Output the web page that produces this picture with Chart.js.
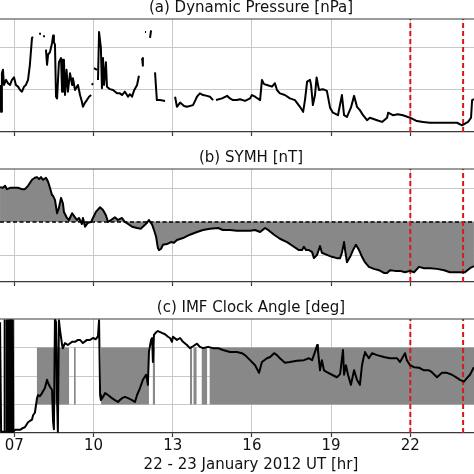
<!DOCTYPE html>
<html><head><meta charset="utf-8">
<script src="https://cdn.jsdelivr.net/npm/chart.js@4.4.1/dist/chart.umd.min.js"></script>
<style>
html,body{margin:0;padding:0;background:#fff;overflow:hidden;width:474px;height:474px;}
canvas{position:absolute;left:0;}
</style></head><body>
<canvas id="ca" width="502" height="152" style="top:0px"></canvas>
<canvas id="cb" width="502" height="162" style="top:140px"></canvas>
<canvas id="cc" width="502" height="184" style="top:290px"></canvas>
<script>
// ---------------- data ----------------
const xTicks = [7, 10, 13, 16, 19, 22];
const xTitle = '22 - 23 January 2012 UT [hr]';
const titles = ['(a) Dynamic Pressure [nPa]', '(b) SYMH [nT]', '(c) IMF Clock Angle [deg]'];
const eventTimes = [22, 24];

const pressTime = [6.46,6.50,6.53,6.57,6.61,6.69,6.76,6.84,6.91,6.99,7.06,7.14,7.22,7.29,7.37,7.44,7.52,7.59,7.67,7.71,7.80,
 7.94,8.01,8.05,8.09,8.16,8.18,
 8.20,8.24,8.28,8.35,8.43,8.47,8.50,8.54,8.58,8.62,8.69,8.77,8.81,8.84,8.88,8.92,8.98,9.03,9.11,9.19,9.22,9.30,9.41,9.49,9.56,9.60,9.68,9.75,9.83,9.91,9.92,
 9.94,9.98,10.00,
 10.02,10.13,10.15,
 10.17,10.21,10.28,10.32,10.36,10.40,10.47,10.51,10.62,10.74,10.89,11.00,11.08,11.19,11.31,11.38,11.46,11.53,11.65,11.72,11.78,
 11.84,11.87,11.92,
 11.95,11.99,12.05,
 12.14,12.18,12.25,
 12.33,12.40,12.52,12.71,12.85,
 13.09,13.16,13.28,13.43,13.54,13.77,13.92,14.03,14.15,14.30,14.41,14.53,14.58,
 14.64,14.87,15.06,15.17,15.28,15.43,15.55,15.74,15.93,16.00,16.12,16.31,16.38,16.46,16.57,16.76,16.87,16.95,17.06,17.25,
 17.44,17.63,17.82,17.94,18.01,18.09,18.20,18.24,18.31,18.39,18.45,18.54,18.69,18.84,18.96,19.07,19.26,19.41,19.49,19.60,
 19.75,19.87,19.98,20.09,20.21,20.36,20.47,20.74,20.93,21.12,21.16,21.34,21.53,21.72,21.99,22.25,22.48,22.75,23.01,23.24,
 23.50,23.77,23.96,24.07,24.19,24.30,24.34,24.41];
const pressVal = [5.6,2.4,7.0,7.4,5.6,6.2,5.8,5.6,6.2,6.5,5.6,5.4,5.0,4.8,5.4,5.6,6.2,8.0,11.2,11.3,null,
 11.7,11.7,null,11.4,11.4,null,
 9.8,8.0,9.2,9.5,10.6,11.5,10.7,10.4,4.2,4.0,8.3,8.8,4.8,8.6,8.6,4.4,7.4,4.8,7.0,5.6,6.4,5.0,5.6,4.4,3.6,3.0,3.5,3.8,4.2,4.4,null,
 5.6,5.8,null,
 7.6,7.4,null,
 6.2,11.9,10.0,5.2,8.8,5.6,8.3,5.4,5.1,5.0,4.6,4.6,4.4,4.8,4.2,4.5,4.2,4.9,5.6,6.7,null,
 8.8,7.9,null,
 11.9,11.9,null,
 11.2,12.1,null,
 7.1,3.8,3.8,3.7,null,
 4.2,3.0,3.5,3.1,3.0,3.2,4.2,4.6,4.4,4.3,4.2,3.8,null,
 3.8,4.0,4.3,4.0,3.8,3.8,3.9,3.7,4.0,4.4,4.2,3.8,6.2,5.7,5.6,5.4,5.8,5.0,4.6,4.4,
 4.0,3.8,3.0,2.4,3.8,6.0,6.2,5.6,3.2,4.4,6.5,5.0,5.1,4.9,2.9,2.3,2.0,4.4,2.0,1.8,
 2.9,4.3,3.0,2.6,2.0,1.4,1.7,1.4,1.2,1.7,2.3,2.0,2.1,2.0,1.7,1.3,1.2,1.1,1.1,1.1,
 1.1,1.1,0.8,1.0,1.2,1.7,3.8,3.9];

const symhTime = [6.46,6.57,6.65,6.72,6.84,6.95,7.14,7.29,7.40,7.52,7.67,7.78,7.86,7.94,8.01,8.09,8.20,8.28,8.35,8.43,
 8.47,8.54,8.62,8.69,8.77,8.84,8.88,8.98,9.07,9.19,9.30,9.37,9.45,9.56,9.60,9.68,9.79,9.91,9.98,10.09,
 10.25,10.36,10.47,10.55,10.70,10.81,10.93,11.08,11.19,11.31,11.46,11.65,11.80,11.87,12.03,12.10,12.22,12.29,12.37,12.44,
 12.48,12.56,12.63,12.78,12.94,13.05,13.16,13.39,13.65,13.92,14.15,14.41,14.72,14.90,15.17,15.43,15.93,16.12,16.31,16.50,
 16.65,16.84,17.06,17.33,17.59,17.78,17.90,17.97,18.05,18.16,18.28,18.35,18.47,18.58,18.65,18.84,19.03,19.22,19.34,19.41,
 19.49,19.53,19.60,19.72,19.83,19.94,20.06,20.17,20.28,20.43,20.62,20.81,21.00,21.12,21.23,21.42,21.61,21.80,21.99,22.14,
 22.33,22.52,22.75,23.01,23.28,23.50,23.69,23.88,24.07,24.26,24.41];
const symhVal = [52,51,54,49,51,51,51,49,49,54,63,66,67,64,67,63,66,60,51,40,
 39,33,13,21,36,28,15,7,3,13,7,3,6,-3,6,-7,-1,0,6,15,
 22,18,10,0,4,7,3,6,0,-3,-7,-9,-10,-7,-1,3,-4,-12,-22,-39,
 -42,-40,-34,-33,-30,-31,-27,-24,-19,-15,-12,-10,-9,-12,-12,-13,-13,-12,-15,-9,
 -13,-19,-25,-30,-37,-42,-42,-37,-42,-42,-45,-54,-49,-36,-46,-49,-52,-54,-54,-46,
 -30,-42,-60,-52,-42,-34,-42,-52,-60,-67,-70,-72,-76,-76,-72,-73,-73,-75,-73,-75,
 -67,-69,-69,-70,-72,-75,-75,-75,-75,-69,-66];

const clockTime = [6.46,6.49,6.50,6.62,6.63,6.64,6.70,6.72,6.74,6.76,6.78,6.80,6.82,6.84,6.86,6.88,6.90,6.92,6.94,6.95,
 6.96,7.03,7.22,7.33,7.40,7.52,7.59,7.67,7.71,7.78,7.86,7.90,7.97,8.05,8.16,8.24,8.28,8.35,8.43,8.47,
 8.50,8.54,8.58,8.62,8.65,8.69,8.73,8.81,8.84,8.92,9.03,9.19,9.30,9.41,9.49,9.60,9.75,9.87,9.98,10.09,
 10.17,10.21,10.25,10.28,10.36,10.44,10.55,10.70,10.81,10.93,11.00,11.08,11.19,11.31,11.46,11.57,11.65,11.76,11.87,11.99,
 12.03,12.06,12.10,12.18,12.22,12.25,12.29,12.37,12.44,12.59,12.71,12.82,12.90,12.97,13.01,13.16,13.28,13.39,13.54,13.65,
 13.77,13.92,14.03,14.15,14.34,14.53,14.72,14.90,15.17,15.43,15.62,15.74,15.93,16.12,16.27,16.38,16.57,16.69,16.84,16.95,
 17.06,17.25,17.44,17.71,17.97,18.16,18.28,18.39,18.47,18.50,18.58,18.65,18.73,18.84,19.03,19.22,19.34,19.45,19.49,19.56,
 19.64,19.75,19.87,19.98,20.09,20.17,20.25,20.28,20.43,20.55,20.74,21.00,21.23,21.50,21.61,21.76,21.80,21.87,21.99,22.14,
 22.33,22.52,22.71,22.82,23.01,23.20,23.39,23.58,23.77,23.88,24.03,24.15,24.26,24.41];
const clockVal = [175,175,2,2,178,2,2,178,2,178,2,178,2,178,2,178,2,178,2,178,
 2,5,5,8,9,17,19,21,28,32,55,60,58,63,71,84,79,73,68,17,
 6,180,175,52,2,178,163,139,134,142,139,144,144,147,147,142,147,147,150,148,
 153,178,60,52,57,63,60,55,52,49,52,55,57,55,52,49,60,71,84,92,
 84,76,128,147,150,112,155,159,161,158,156,152,150,144,152,147,150,144,139,134,
 137,141,136,134,136,134,134,131,128,128,126,123,115,107,95,112,118,120,126,123,
 118,111,112,114,115,118,115,128,139,131,99,115,99,96,92,88,93,131,92,107,
 92,76,99,84,76,107,123,128,118,126,123,120,118,118,112,123,126,115,107,104,
 103,99,99,96,88,95,95,92,87,84,81,87,92,104];

// shaded clock-angle band (45 - 135 deg) intervals
const bandLow = 45, bandHigh = 135;
const bandStart = [7.85, 9.26, 10.28, 12.24, 13.65, 13.78, 14.09, 14.39];
const bandEnd   = [9.08, 9.33, 12.10, 12.33, 13.74, 13.91, 14.31, 25.50];

// axis ranges / gridline values
const X_MIN = 6.458, X_MAX = 25.473;
const pressRange = [0, 13.45], pressGrid = [5, 10];
const symhRange = [-89.6, 79.1], symhGrid = [-50, 0, 50];
const clockRange = [0, 180], clockGrid = [45, 90, 135];

// ---------------- chart ----------------
Chart.defaults.font.family = "'DejaVu Sans', sans-serif";
Chart.defaults.color = '#111';
const GRID = '#c8c8c8', SPINE = '#3a3a3a', GRAY = '#888888', RED = '#d7191c';

function pts(ts, vs){ return ts.map((t,i)=>({x:t, y:vs[i]})); }
function bandPts(){
  const out = [];
  bandStart.forEach((s,i)=>{ out.push({x:s,y:bandHigh},{x:bandEnd[i],y:bandHigh},{x:bandEnd[i],y:null}); });
  return out;
}
const topSpine = {id:'topSpine', afterDraw(c){
  const {ctx, chartArea:a} = c; ctx.save(); ctx.strokeStyle = SPINE; ctx.lineWidth = 1.2;
  ctx.beginPath(); ctx.moveTo(a.left, a.top); ctx.lineTo(a.right, a.top); ctx.stroke(); ctx.restore();
}};
function xAxis(labels, h){
  return {type:'linear', min:X_MIN, max:X_MAX,
    afterBuildTicks: s => { s.ticks = xTicks.map(v=>({value:v})); },
    afterFit: s => { s.height = h; },
    grid:{color:GRID, lineWidth:1, drawTicks:true, tickLength:4, tickColor:SPINE, tickWidth:1.2},
    border:{display:true, color:SPINE, width:1.2},
    ticks:{display:labels, autoSkip:false, maxRotation:0, minRotation:0, padding:0, font:{size:15}, color:'#111',
      callback: v => String(v).padStart(2,'0')},
    title:{display:labels, text:xTitle, font:{size:15}, color:'#111', padding:{top:0,bottom:0}}
  };
}
function yAxis(range, grid){
  return {type:'linear', min:range[0], max:range[1],
    afterBuildTicks: s => { s.ticks = grid.map(v=>({value:v})); },
    afterFit: s => { s.width = 0; },
    grid:{color:GRID, lineWidth:1, drawTicks:false}, border:{display:false}, ticks:{display:false}};
}
function vlines(range){
  return eventTimes.map(t=>({data:[{x:t,y:range[0]},{x:t,y:range[1]}], borderColor:RED, borderWidth:2,
    borderDash:[5,3], pointRadius:0, fill:false}));
}
function mainLine(data){
  return {data, borderColor:'#000', borderWidth:2, pointRadius:0, fill:false, spanGaps:false,
    tension:0, borderJoinStyle:'round'};
}
function panel(id, title, padTop, yAx, datasets, xAx){
  return new Chart(document.getElementById(id), {type:'line', data:{datasets},
    options:{responsive:false, animation:false, events:[], layout:{padding:0},
      plugins:{legend:{display:false}, tooltip:{enabled:false},
        title:{display:true, text:title, font:{size:15, weight:'normal', lineHeight:1}, color:'#111',
          padding:{top:padTop, bottom:3}}},
      scales:{x:xAx, y:yAx}},
    plugins:[topSpine]});
}

panel('ca', titles[0], 1, yAxis(pressRange, pressGrid),
  [mainLine(pts(pressTime, pressVal)), ...vlines(pressRange)], xAxis(false, 20));

panel('cb', titles[1], 11, yAxis(symhRange, symhGrid),
  [mainLine(pts(symhTime, symhVal)), ...vlines(symhRange),
   {data:[{x:X_MIN,y:0},{x:X_MAX,y:0}], borderColor:'#000', borderWidth:1.5, borderDash:[4,2.5], pointRadius:0, fill:false},
   {data:pts(symhTime, symhVal), borderWidth:0, borderColor:'rgba(0,0,0,0)', pointRadius:0, fill:'origin', backgroundColor:GRAY}],
  xAxis(false, 20));

panel('cc', titles[2], 11, yAxis(clockRange, clockGrid),
  [mainLine(pts(clockTime, clockVal)), ...vlines(clockRange),
   {data:bandPts(), borderWidth:0, borderColor:'rgba(0,0,0,0)', pointRadius:0, spanGaps:false, fill:{value:bandLow}, backgroundColor:GRAY}],
  xAxis(true, 41));
</script>
</body></html>
